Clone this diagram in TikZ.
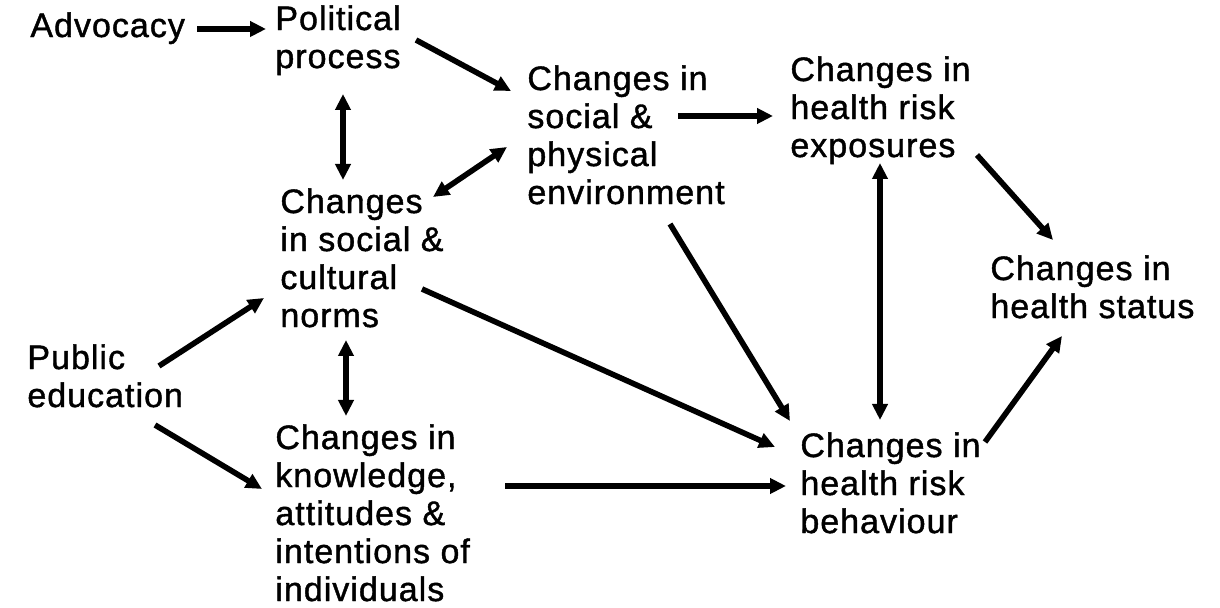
\documentclass[tikz,border=0pt]{standalone}
\usepackage{fontspec}
\setmainfont{Liberation Sans}[FakeBold=1.2,LetterSpace=3]
\usetikzlibrary{arrows.meta}
\begin{document}
\begin{tikzpicture}[x=0.5pt,y=-0.5pt,
  lbl/.style={anchor=north west,inner sep=0pt,align=left,font=\fontsize{17}{19}\selectfont},
  arr/.style={line width=2.8pt,-{Triangle[length=8pt,width=7.5pt]}},
  darr/.style={line width=2.8pt,{Triangle[length=8pt,width=7.5pt]}-{Triangle[length=8pt,width=7.5pt]}}]
\useasboundingbox (0,0) rectangle (1220,608);
\node[lbl] (adv) at (30,12) {Advocacy};
\node[lbl] (pol) at (275,5) {Political\\process};
\node[lbl] (env) at (527,65) {Changes in\\social \&\\physical\\environment};
\node[lbl] (exp) at (790,56) {Changes in\\health risk\\exposures};
\node[lbl] (nor) at (280,188) {Changes\\in social \&\\cultural\\norms};
\node[lbl] (sta) at (990,255) {Changes in\\health status};
\node[lbl] (pub) at (27,344) {Public\\education};
\node[lbl] (kno) at (275,424) {Changes in\\knowledge,\\attitudes \&\\intentions of\\individuals};
\node[lbl] (beh) at (800,432) {Changes in\\health risk\\behaviour};
% connector endpoints
\coordinate (a1) at (197,29); \coordinate (a2) at (266,29);
\coordinate (b1) at (416,40); \coordinate (b2) at (511,91);
\coordinate (c1) at (343,94); \coordinate (c2) at (343,180);
\coordinate (d1) at (433,197); \coordinate (d2) at (507,147);
\coordinate (e1) at (678,116); \coordinate (e2) at (773,116);
\coordinate (f1) at (880,163); \coordinate (f2) at (880,420);
\coordinate (g1) at (977,155); \coordinate (g2) at (1053,240);
\coordinate (h1) at (670,224); \coordinate (h2) at (790,421);
\coordinate (i1) at (422,289); \coordinate (i2) at (775,447);
\coordinate (j1) at (505,486); \coordinate (j2) at (786,486);
\coordinate (k1) at (159,366); \coordinate (k2) at (264,298);
\coordinate (l1) at (155,425); \coordinate (l2) at (262,489);
\coordinate (m1) at (346,340); \coordinate (m2) at (346,416);
\coordinate (n1) at (985,442); \coordinate (n2) at (1062,336);
\draw[arr] (a1) -- (a2);
\draw[arr] (b1) -- (b2);
\draw[darr] (c1) -- (c2);
\draw[darr] (d1) -- (d2);
\draw[arr] (e1) -- (e2);
\draw[darr] (f1) -- (f2);
\draw[arr] (g1) -- (g2);
\draw[arr] (h1) -- (h2);
\draw[arr] (i1) -- (i2);
\draw[arr] (j1) -- (j2);
\draw[arr] (k1) -- (k2);
\draw[arr] (l1) -- (l2);
\draw[darr] (m1) -- (m2);
\draw[arr] (n1) -- (n2);
\end{tikzpicture}
\end{document}
